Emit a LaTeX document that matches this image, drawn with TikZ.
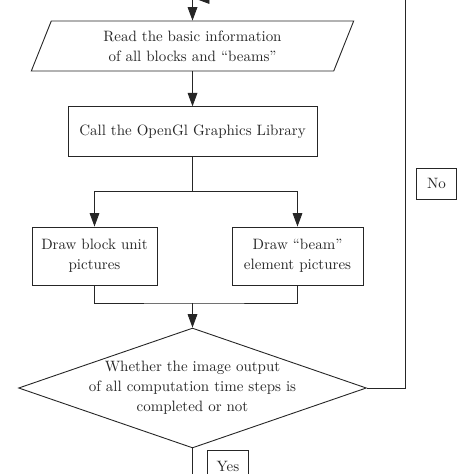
\documentclass[tikz,border=0pt]{standalone}
\usetikzlibrary{arrows.meta,positioning,shapes.geometric}

\begin{document}
\begin{tikzpicture}[x=0.667pt,y=-0.667pt,
    color=black!85, line width=0.6pt,
    every node/.style={font=\fontsize{10}{13.3}\selectfont, align=center},
    arr/.style={-{Triangle[length=9pt,width=6.5pt]}},
    io/.style={draw, trapezium, trapezium left angle=57, trapezium right angle=123,
      trapezium stretches body, minimum width=215pt, minimum height=33.3pt, inner sep=0pt},
    box/.style={draw, rectangle, minimum height=38.7pt, inner sep=2pt},
    decision/.style={draw, diamond, aspect=2.9, minimum width=232pt, minimum height=80pt, inner sep=-10pt},
    tag/.style={draw, rectangle, minimum width=27pt, minimum height=20.7pt, inner sep=1pt}]
  \useasboundingbox (0,0) rectangle (474,474);

  \node[io] (read) at (192.5,46) {Read the basic information\\of all blocks and “beams”};
  \node[box, minimum width=166pt, minimum height=33.3pt, below=23.3pt of read] (call)
    {Call the OpenGl Graphics Library};
  \node[box, minimum width=83.4pt] (blockpic) at (94.5,256) {Draw block unit\\pictures};
  \node[box, minimum width=87.4pt, right=49.4pt of blockpic] (beampic)
    {Draw “beam”\\element pictures};
  \node[decision] (check) at (192.5,388)
    {Whether the image output\\of all computation time steps is\\completed or not};
  \node[tag] (no) at (436.5,183.5) {No};
  \node[tag] (yes) at (228,466) {Yes};

  \coordinate (start) at (192.5,-12);
  \coordinate (join) at (196,-1);
  \coordinate (corner) at (405,-1);
  \coordinate (split) at (192.5,191);
  \coordinate (merge) at (192.5,303);
  \coordinate (end) at (192.5,490);

  \draw[arr] (start) -- (read.north);
  \draw[arr] (read.south) -- (call.north);
  \draw (call.south) -- (split);
  \draw[arr] (split) -| (blockpic.north);
  \draw[arr] (split) -| (beampic.north);
  \draw (blockpic.south) |- (merge) -| (beampic.south);
  \draw[arr] (merge) -- (check.north);
  \draw (check.south) -- (end);
  \draw[arr] (check.east) -| (corner) -- (join);
\end{tikzpicture}
\end{document}
